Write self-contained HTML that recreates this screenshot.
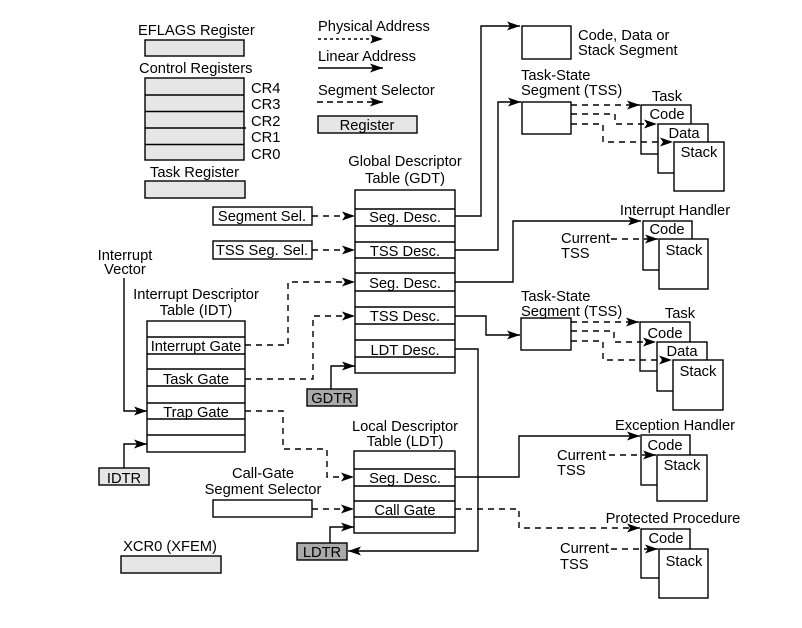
<!DOCTYPE html>
<html><head><meta charset="utf-8"><style>
html,body{margin:0;padding:0;background:#fff;}
svg{display:block;}
text{font-family:"Liberation Sans",Arial,sans-serif;font-size:14.7px;fill:#000;}
</style></head><body>
<svg width="802" height="628" viewBox="0 0 802 628" xmlns="http://www.w3.org/2000/svg">
<defs>
<marker id="a" markerUnits="userSpaceOnUse" markerWidth="14" markerHeight="10" refX="13" refY="4.5" orient="auto">
<path d="M0,0 L13,4.5 L0,9 L3,4.5 Z" fill="#000"/>
</marker>
</defs>
<g fill="none" stroke="#000" stroke-width="1.4">
<rect x="145" y="40" width="99" height="16" fill="#e6e6e6"/>
<rect x="145" y="78" width="99" height="82" fill="#e6e6e6"/>
<path d="M145,95H244M145,111.5H244M145,128H246M145,144.5H244"/>
<rect x="145" y="181" width="100" height="17" fill="#e6e6e6"/>
<rect x="318" y="116" width="99" height="17" fill="#e6e6e6"/>
<path d="M318,39H383" stroke-dasharray="3,3" marker-end="url(#a)"/>
<path d="M318,68H383" marker-end="url(#a)"/>
<path d="M317,102H383" stroke-dasharray="6,4" marker-end="url(#a)"/>

<rect x="355" y="190" width="100" height="183"/>
<path d="M355,209H455M355,226H455M355,242H455M355,258H455M355,273H455M355,291H455M355,307H455M355,324H455M355,340H455M355,357H455"/>
<rect x="213" y="207" width="99" height="18"/>
<rect x="213" y="241" width="99" height="18"/>
<path d="M312,216H355" stroke-dasharray="6,5" marker-end="url(#a)"/>
<path d="M312,250H355" stroke-dasharray="6,5" marker-end="url(#a)"/>
<rect x="307" y="389" width="50" height="17" fill="#aaa"/>
<path d="M331,389V366H355" marker-end="url(#a)"/>

<rect x="147" y="321" width="98" height="131"/>
<path d="M147,337H245M147,354H245M147,369H245M147,386H245M147,403H245M147,419H245M147,435H245"/>
<path d="M124,278V411H147" marker-end="url(#a)"/>
<rect x="99" y="468" width="50" height="17" fill="#e6e6e6"/>
<path d="M124,468V444H147" marker-end="url(#a)"/>
<path d="M245,345H288V282H355" stroke-dasharray="6,5" marker-end="url(#a)"/>
<path d="M245,379H313V316H355" stroke-dasharray="6,5" marker-end="url(#a)"/>
<path d="M245,411H283V449H327V477H354" stroke-dasharray="6,5" marker-end="url(#a)"/>

<rect x="354" y="451" width="101" height="82"/>
<path d="M354,469H455M354,486H455M354,501H455M354,517H455"/>
<rect x="213" y="500" width="99" height="17"/>
<path d="M312,509H354" stroke-dasharray="6,5" marker-end="url(#a)"/>
<rect x="297" y="543" width="50" height="17" fill="#aaa"/>
<path d="M330,543V527H354" marker-end="url(#a)"/>
<rect x="121" y="556" width="100" height="17" fill="#e6e6e6"/>
<path d="M455,349H478V551H348" marker-end="url(#a)"/>

<path d="M455,216H481V26H520" marker-end="url(#a)"/>
<rect x="522" y="26" width="49" height="33"/>
<path d="M455,250H498V102H521" marker-end="url(#a)"/>
<rect x="522" y="102" width="49" height="32"/>
<rect x="641" y="105" width="50" height="49" fill="#fff"/>
<rect x="658" y="124" width="50" height="49" fill="#fff"/>
<rect x="674" y="142" width="50" height="49" fill="#fff"/>
<path d="M571,105H640" stroke-dasharray="6,5" marker-end="url(#a)"/>
<path d="M571,114H615V124H657" stroke-dasharray="6,5" marker-end="url(#a)"/>
<path d="M571,124H603V142H673" stroke-dasharray="6,5" marker-end="url(#a)"/>

<path d="M455,282H513V221H641" marker-end="url(#a)"/>
<rect x="643" y="221" width="49" height="49" fill="#fff"/>
<rect x="659" y="239" width="49" height="50" fill="#fff"/>
<path d="M611,239H658" stroke-dasharray="6,5" marker-end="url(#a)"/>

<path d="M455,316H486V335H520" marker-end="url(#a)"/>
<rect x="521" y="318" width="50" height="32"/>
<rect x="640" y="322" width="50" height="49" fill="#fff"/>
<rect x="657" y="342" width="50" height="49" fill="#fff"/>
<rect x="673" y="360" width="50" height="50" fill="#fff"/>
<path d="M571,322H639" stroke-dasharray="6,5" marker-end="url(#a)"/>
<path d="M571,331H614V342H656" stroke-dasharray="6,5" marker-end="url(#a)"/>
<path d="M571,341H603V360H672" stroke-dasharray="6,5" marker-end="url(#a)"/>

<path d="M455,477H519V436H640" marker-end="url(#a)"/>
<rect x="641" y="435" width="49" height="50" fill="#fff"/>
<rect x="657" y="455" width="50" height="46" fill="#fff"/>
<path d="M609,455H656" stroke-dasharray="6,5" marker-end="url(#a)"/>

<path d="M455,509H519V528H640" stroke-dasharray="6,5" marker-end="url(#a)"/>
<rect x="641" y="529" width="49" height="49" fill="#fff"/>
<rect x="659" y="549" width="49" height="49" fill="#fff"/>
<path d="M611,549H658" stroke-dasharray="6,5" marker-end="url(#a)"/>
</g>

<g>
<text x="138" y="35">EFLAGS Register</text>
<text x="139" y="73">Control Registers</text>
<text x="251" y="93">CR4</text>
<text x="251" y="109">CR3</text>
<text x="251" y="126">CR2</text>
<text x="251" y="142">CR1</text>
<text x="251" y="159">CR0</text>
<text x="150" y="177">Task Register</text>
<text x="318" y="31">Physical Address</text>
<text x="318" y="61">Linear Address</text>
<text x="318" y="95">Segment Selector</text>
<text x="367" y="130" text-anchor="middle">Register</text>

<text x="405" y="166" text-anchor="middle">Global Descriptor</text>
<text x="405" y="183" text-anchor="middle">Table (GDT)</text>
<text x="405" y="222" text-anchor="middle">Seg. Desc.</text>
<text x="405" y="256" text-anchor="middle">TSS Desc.</text>
<text x="405" y="288" text-anchor="middle">Seg. Desc.</text>
<text x="405" y="321" text-anchor="middle">TSS Desc.</text>
<text x="405" y="355" text-anchor="middle">LDT Desc.</text>
<text x="262" y="221" text-anchor="middle">Segment Sel.</text>
<text x="262" y="255" text-anchor="middle">TSS Seg. Sel.</text>
<text x="332" y="403" text-anchor="middle">GDTR</text>

<text x="125" y="260" text-anchor="middle">Interrupt</text>
<text x="125" y="274" text-anchor="middle">Vector</text>
<text x="196" y="299" text-anchor="middle">Interrupt Descriptor</text>
<text x="196" y="315" text-anchor="middle">Table (IDT)</text>
<text x="196" y="351" text-anchor="middle">Interrupt Gate</text>
<text x="196" y="384" text-anchor="middle">Task Gate</text>
<text x="196" y="417" text-anchor="middle">Trap Gate</text>
<text x="124" y="483" text-anchor="middle">IDTR</text>

<text x="405" y="431" text-anchor="middle">Local Descriptor</text>
<text x="405" y="446" text-anchor="middle">Table (LDT)</text>
<text x="405" y="483" text-anchor="middle">Seg. Desc.</text>
<text x="405" y="515" text-anchor="middle">Call Gate</text>
<text x="263" y="478" text-anchor="middle">Call-Gate</text>
<text x="263" y="494" text-anchor="middle">Segment Selector</text>
<text x="322" y="557" text-anchor="middle">LDTR</text>
<text x="170" y="551" text-anchor="middle">XCR0 (XFEM)</text>

<text x="578" y="40">Code, Data or</text>
<text x="578" y="55">Stack Segment</text>
<text x="521" y="80">Task-State</text>
<text x="521" y="95">Segment (TSS)</text>
<text x="667" y="101" text-anchor="middle">Task</text>
<text x="667" y="119" text-anchor="middle">Code</text>
<text x="684" y="138" text-anchor="middle">Data</text>
<text x="699" y="157" text-anchor="middle">Stack</text>

<text x="675" y="215" text-anchor="middle">Interrupt Handler</text>
<text x="667" y="234" text-anchor="middle">Code</text>
<text x="684" y="255" text-anchor="middle">Stack</text>
<text x="561" y="243">Current</text>
<text x="561" y="258">TSS</text>

<text x="521" y="301">Task-State</text>
<text x="521" y="316">Segment (TSS)</text>
<text x="680" y="318" text-anchor="middle">Task</text>
<text x="665" y="338" text-anchor="middle">Code</text>
<text x="682" y="356" text-anchor="middle">Data</text>
<text x="698" y="376" text-anchor="middle">Stack</text>

<text x="675" y="430" text-anchor="middle">Exception Handler</text>
<text x="665" y="450" text-anchor="middle">Code</text>
<text x="682" y="470" text-anchor="middle">Stack</text>
<text x="557" y="460">Current</text>
<text x="557" y="475">TSS</text>

<text x="673" y="523" text-anchor="middle">Protected Procedure</text>
<text x="666" y="543" text-anchor="middle">Code</text>
<text x="684" y="566" text-anchor="middle">Stack</text>
<text x="560" y="553">Current</text>
<text x="560" y="569">TSS</text>
</g>
</svg>
</body></html>
